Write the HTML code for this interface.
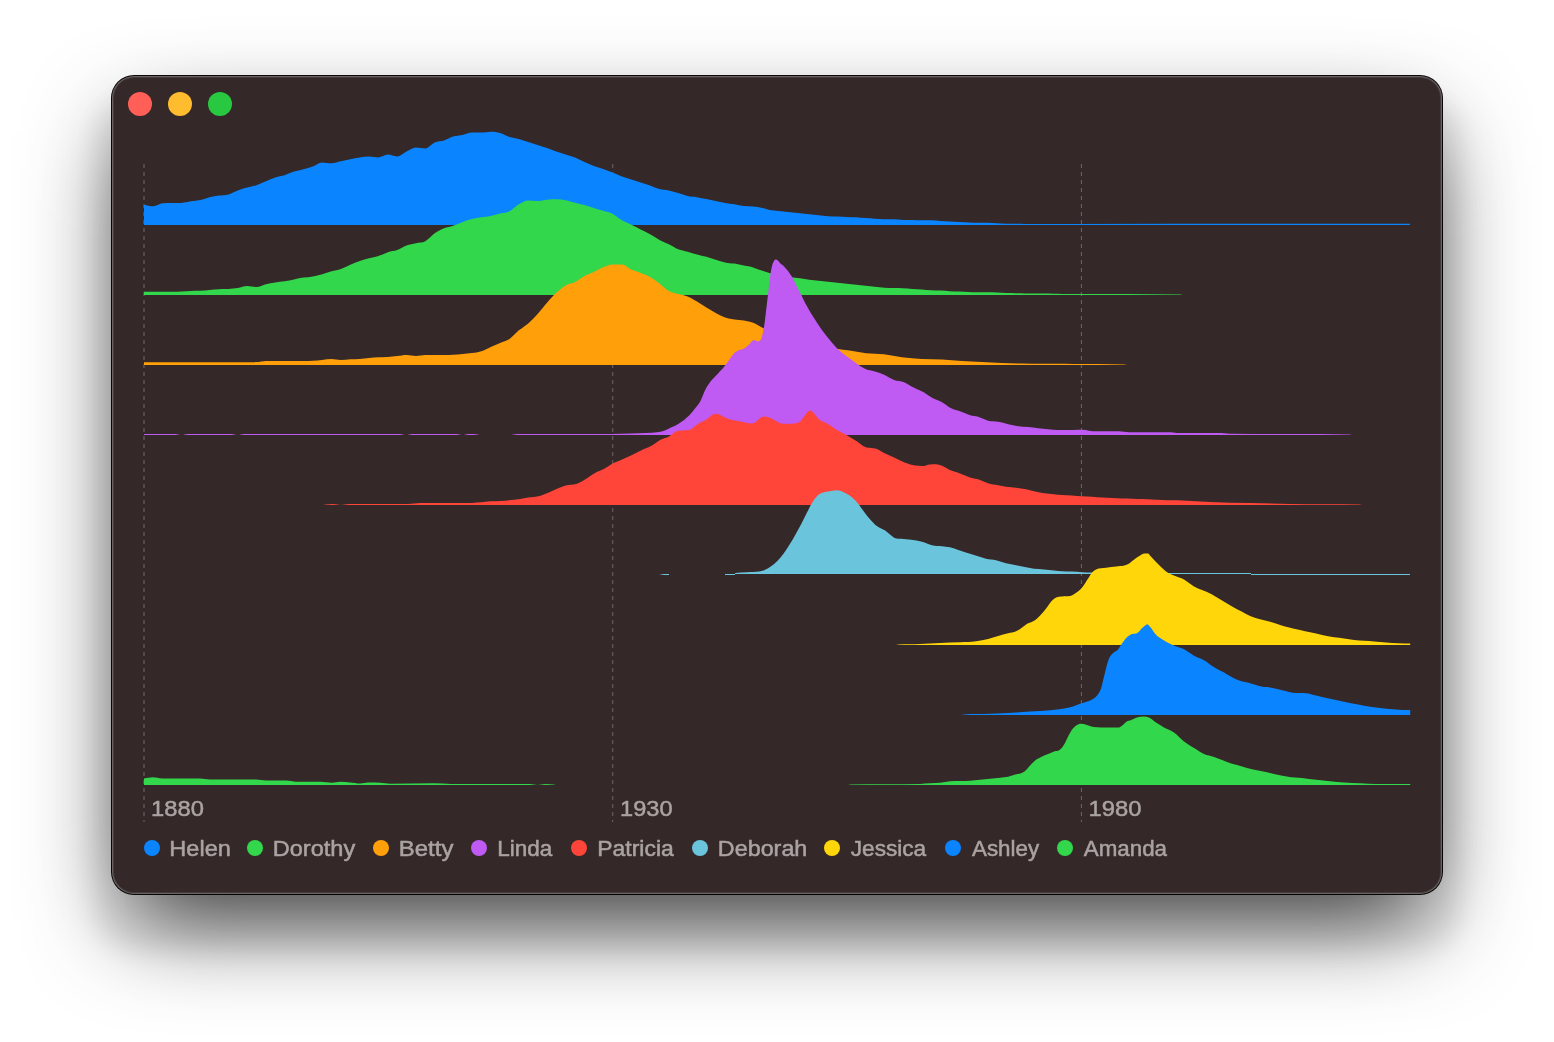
<!DOCTYPE html>
<html lang="en"><head><meta charset="utf-8"><title>Baby names ridgeline chart</title>
<style>
html,body{margin:0;padding:0;background:#fff;}
body{width:1554px;height:1042px;position:relative;overflow:hidden;font-family:"Liberation Sans",sans-serif;}
#win{position:absolute;left:112px;top:76px;width:1330px;height:818px;border-radius:22px;background:#342828;
 box-shadow:0 0 0 1px rgba(0,0,0,0.97),0 41px 96px -15px rgba(0,0,0,0.79),0 39px 24px 16px rgba(0,0,0,0.07);}
#win:after{content:"";position:absolute;left:0;top:0;right:0;bottom:0;border-radius:22px;box-shadow:inset 0 0 0 1px rgba(255,255,255,0.2),inset 0 0 0 2px rgba(255,255,255,0.09);}
.tl{position:absolute;top:16px;width:24px;height:24px;border-radius:50%;}
svg{position:absolute;left:0;top:0;}
text{font-family:"Liberation Sans",sans-serif;fill:#aaa3a2;stroke:#aaa3a2;stroke-width:0.5px;}
.ax{font-size:22.9px;}
.lg{font-size:21.5px;}
</style></head><body>
<div id="win">
<div class="tl" style="left:16px;background:#ff5f57"></div>
<div class="tl" style="left:56px;background:#febc2e"></div>
<div class="tl" style="left:96px;background:#28c840"></div>
</div>
<svg width="1554" height="1042" viewBox="0 0 1554 1042">
<g stroke="#6f6667" stroke-width="1" stroke-dasharray="4 4" fill="none">
<line x1="144" y1="164" x2="144" y2="822"/>
<line x1="612.7" y1="164" x2="612.7" y2="822"/>
<line x1="1081.4" y1="164" x2="1081.4" y2="822"/>
</g>
<path fill="#0A84FF" d="M144.0,225.0L144.0,204.7C147.1,205.3 150.3,206.3 153.4,206.3C156.5,206.3 159.6,203.5 162.8,203.3C165.9,203.1 169.0,203.2 172.1,203.1C175.3,203.1 178.4,203.1 181.5,202.9C184.6,202.7 187.8,201.8 190.9,201.3C194.0,200.9 197.1,200.8 200.3,200.1C203.4,199.4 206.5,197.9 209.6,197.2C212.8,196.4 215.9,196.0 219.0,195.6C222.1,195.1 225.3,195.2 228.4,194.4C231.5,193.5 234.6,191.5 237.8,190.4C240.9,189.2 244.0,188.4 247.1,187.6C250.3,186.7 253.4,186.2 256.5,185.2C259.6,184.1 262.8,182.5 265.9,181.2C269.0,179.9 272.1,178.4 275.3,177.4C278.4,176.4 281.5,176.2 284.6,175.2C287.8,174.2 290.9,172.6 294.0,171.6C297.1,170.6 300.3,170.1 303.4,169.2C306.5,168.3 309.6,167.5 312.8,166.4C315.9,165.3 319.0,162.4 322.1,162.4C325.3,162.4 328.4,163.2 331.5,163.2C334.6,163.2 337.8,161.9 340.9,161.2C344.0,160.6 347.1,159.9 350.3,159.2C353.4,158.6 356.5,157.9 359.7,157.4C362.8,157.0 365.9,156.6 369.0,156.6C372.2,156.6 375.3,157.4 378.4,157.4C381.5,157.4 384.7,154.6 387.8,154.6C390.9,154.6 394.0,156.4 397.2,156.4C400.3,156.4 403.4,152.9 406.5,151.4C409.7,149.9 412.8,147.4 415.9,147.4C419.0,147.4 422.2,148.4 425.3,148.4C428.4,148.4 431.5,143.8 434.7,142.5C437.8,141.1 440.9,141.5 444.0,140.5C447.1,139.5 450.1,137.4 453.2,136.5C456.3,135.5 459.5,135.5 462.6,134.9C465.7,134.2 468.8,132.5 472.0,132.5C475.1,132.5 478.2,132.5 481.3,132.5C484.5,132.5 487.6,131.7 490.7,131.7C493.8,131.7 497.0,132.0 500.1,132.9C503.2,133.7 506.3,135.9 509.5,136.9C512.6,137.9 515.7,138.0 518.8,138.9C522.0,139.7 525.1,141.1 528.2,142.1C531.3,143.1 534.5,143.9 537.6,144.9C540.7,145.9 543.8,146.9 547.0,148.0C550.1,149.1 553.2,150.4 556.3,151.4C559.5,152.5 562.6,153.4 565.7,154.4C568.8,155.5 572.0,156.4 575.1,157.6C578.2,158.9 581.3,160.6 584.5,162.0C587.6,163.4 590.7,164.8 593.8,166.0C597.0,167.2 600.1,167.9 603.2,169.0C606.3,170.1 609.5,171.2 612.6,172.4C615.7,173.6 618.8,175.2 622.0,176.4C625.1,177.6 628.2,178.4 631.3,179.4C634.5,180.4 637.6,181.4 640.7,182.4C643.8,183.4 647.0,184.3 650.1,185.4C653.2,186.5 656.3,188.1 659.5,189.0C662.6,189.8 665.7,189.7 668.9,190.4C672.0,191.0 675.1,192.0 678.2,193.0C681.4,193.9 684.5,195.3 687.6,196.0C690.7,196.7 693.9,196.6 697.0,197.2C700.1,197.7 703.2,198.5 706.4,199.1C709.5,199.8 712.6,200.5 715.7,201.1C718.9,201.8 722.0,202.4 725.1,202.9C728.2,203.5 731.4,203.8 734.5,204.3C737.6,204.8 740.7,205.6 743.9,205.9C747.0,206.3 750.1,206.2 753.2,206.5C756.3,206.9 759.3,207.3 762.4,207.9C765.5,208.6 768.7,209.8 771.8,210.3C774.9,210.9 778.0,211.0 781.2,211.3C784.3,211.7 787.4,212.0 790.5,212.3C793.7,212.7 796.8,213.0 799.9,213.3C803.0,213.7 806.2,214.0 809.3,214.3C812.4,214.7 815.5,215.0 818.7,215.3C821.8,215.7 824.9,216.1 828.0,216.3C831.2,216.5 834.3,216.4 837.4,216.5C840.5,216.6 843.7,216.8 846.8,216.9C849.9,217.0 853.0,217.1 856.2,217.3C859.3,217.5 862.4,217.9 865.5,218.1C868.7,218.3 871.8,218.5 874.9,218.7C878.0,218.9 881.2,219.3 884.3,219.3C887.4,219.3 890.5,219.3 893.7,219.3C896.8,219.3 899.9,219.8 903.0,219.9C906.2,220.0 909.3,220.0 912.4,220.1C915.5,220.2 918.7,220.3 921.8,220.3C924.9,220.3 928.0,220.3 931.2,220.3C934.3,220.3 937.4,220.9 940.5,221.1C943.7,221.3 946.8,221.4 949.9,221.5C953.0,221.6 956.2,221.7 959.3,221.9C962.4,222.1 965.5,222.4 968.7,222.5C971.8,222.6 974.9,222.7 978.0,222.7C981.2,222.7 984.3,222.7 987.4,222.7C990.6,222.7 993.7,223.1 996.8,223.3C999.9,223.5 1003.1,223.7 1006.2,223.7C1009.3,223.7 1012.4,223.7 1015.6,223.7C1018.7,223.7 1021.8,223.9 1024.9,223.9C1028.1,223.9 1031.2,223.9 1034.3,223.9C1037.4,223.9 1040.6,223.9 1043.7,223.9C1046.8,223.9 1049.9,223.9 1053.1,223.9C1056.2,223.9 1059.3,224.0 1062.4,224.0C1065.6,224.0 1068.7,224.0 1071.8,224.0C1154.5,224.0 1237.3,223.8 1320.0,223.8C1350.0,223.8 1380.0,223.8 1410.0,223.8L1410.0,225.0Z"/>
<path fill="#32D74B" d="M144.0,295.0L144.0,291.8C147.1,291.8 150.3,291.8 153.4,291.8C156.5,291.8 159.6,291.8 162.8,291.8C165.9,291.8 169.0,291.8 172.1,291.8C175.3,291.8 178.4,291.7 181.5,291.6C184.6,291.4 187.8,291.1 190.9,291.0C194.0,290.8 197.1,290.9 200.3,290.8C203.4,290.6 206.5,290.2 209.6,290.0C212.8,289.7 215.9,289.3 219.0,289.2C222.1,289.0 225.3,289.2 228.4,289.0C231.5,288.8 234.6,288.5 237.8,288.0C240.9,287.5 244.0,286.0 247.1,286.0C250.3,286.0 253.4,287.0 256.5,287.0C259.6,287.0 262.8,285.0 265.9,284.2C269.0,283.4 272.1,282.9 275.3,282.4C278.4,281.9 281.5,281.7 284.6,281.2C287.8,280.7 290.9,280.0 294.0,279.4C297.1,278.8 300.3,278.1 303.4,277.6C306.5,277.1 309.6,277.0 312.8,276.4C315.9,275.8 319.0,275.1 322.1,274.2C325.3,273.3 328.4,272.1 331.5,271.2C334.6,270.3 337.8,270.1 340.9,269.0C344.0,267.9 347.1,266.2 350.3,264.8C353.4,263.5 356.5,262.1 359.7,261.0C362.8,259.9 365.9,259.1 369.0,258.2C372.2,257.4 375.3,257.0 378.4,256.0C381.5,255.0 384.7,253.2 387.8,252.2C390.9,251.2 394.0,251.2 397.2,250.1C400.3,248.9 403.4,246.6 406.5,245.5C409.7,244.3 412.8,244.0 415.9,243.3C419.0,242.6 422.2,242.9 425.3,241.3C428.4,239.6 431.5,235.4 434.7,233.3C437.8,231.1 440.9,229.6 444.0,228.3C447.1,227.1 450.1,226.7 453.2,225.7C456.3,224.6 459.5,223.0 462.6,221.9C465.7,220.8 468.8,219.9 472.0,219.1C475.1,218.3 478.2,217.8 481.3,217.3C484.5,216.8 487.6,216.7 490.7,216.1C493.8,215.5 497.0,214.3 500.1,213.5C503.2,212.7 506.3,212.9 509.5,211.3C512.6,209.8 515.7,206.1 518.8,204.3C522.0,202.5 525.1,200.5 528.2,200.5C531.3,200.5 534.5,201.1 537.6,201.1C540.7,201.1 543.8,200.0 547.0,199.7C550.1,199.4 553.2,199.3 556.3,199.3C559.5,199.3 562.6,199.8 565.7,200.3C568.8,200.9 572.0,201.9 575.1,202.7C578.2,203.5 581.3,204.3 584.5,205.1C587.6,206.0 590.7,207.0 593.8,207.9C597.0,208.9 600.1,209.8 603.2,210.7C606.3,211.7 609.5,212.1 612.6,213.7C615.7,215.3 618.8,218.5 622.0,220.3C625.1,222.1 628.2,223.2 631.3,224.7C634.5,226.2 637.6,227.9 640.7,229.5C643.8,231.1 647.0,232.6 650.1,234.3C653.2,236.0 656.3,238.2 659.5,239.9C662.6,241.5 665.7,242.7 668.9,244.3C672.0,245.8 675.1,248.0 678.2,249.3C681.4,250.5 684.5,250.9 687.6,251.8C690.7,252.7 693.9,253.8 697.0,254.6C700.1,255.5 703.2,256.0 706.4,256.8C709.5,257.7 712.6,258.9 715.7,259.8C718.9,260.8 722.0,261.8 725.1,262.4C728.2,263.1 731.4,263.1 734.5,263.6C737.6,264.2 740.7,265.0 743.9,265.6C747.0,266.3 750.1,266.5 753.2,267.4C756.3,268.3 759.3,269.8 762.4,270.8C765.5,271.9 768.7,273.0 771.8,273.8C774.9,274.6 778.0,274.8 781.2,275.4C784.3,276.0 787.4,276.7 790.5,277.2C793.7,277.7 796.8,277.8 799.9,278.2C803.0,278.6 806.2,279.4 809.3,279.8C812.4,280.2 815.5,280.5 818.7,280.8C821.8,281.1 824.9,281.5 828.0,281.8C831.2,282.1 834.3,282.5 837.4,282.8C840.5,283.1 843.7,283.5 846.8,283.8C849.9,284.1 853.0,284.5 856.2,284.8C859.3,285.1 862.4,285.4 865.5,285.8C868.7,286.1 871.8,286.4 874.9,286.8C878.0,287.1 881.2,287.6 884.3,287.8C887.4,288.0 890.5,287.9 893.7,288.0C896.8,288.0 899.9,288.0 903.0,288.2C906.2,288.3 909.3,288.8 912.4,289.0C915.5,289.2 918.7,289.2 921.8,289.4C924.9,289.6 928.0,290.0 931.2,290.2C934.3,290.4 937.4,290.4 940.5,290.6C943.7,290.7 946.8,291.0 949.9,291.2C953.0,291.3 956.2,291.4 959.3,291.6C962.4,291.7 965.5,291.9 968.7,292.0C971.8,292.1 974.9,292.2 978.0,292.2C981.2,292.2 984.3,292.2 987.4,292.2C990.6,292.2 993.7,292.2 996.8,292.4C999.9,292.5 1003.1,292.8 1006.2,293.0C1009.3,293.1 1012.4,293.1 1015.6,293.2C1018.7,293.2 1021.8,293.4 1024.9,293.4C1028.1,293.4 1031.2,293.4 1034.3,293.4C1037.4,293.4 1040.6,293.5 1043.7,293.6C1046.8,293.6 1049.9,293.7 1053.1,293.8C1056.2,293.8 1059.3,293.9 1062.4,293.9C1065.6,293.9 1068.7,293.9 1071.8,293.9C1107.9,293.9 1143.9,293.9 1180.0,294.5C1181.0,294.5 1182.0,294.8 1183.0,295.0L1183.0,295.0Z"/>
<path fill="#FF9F0A" d="M144.0,365.0L144.0,362.3C147.1,362.3 150.3,362.3 153.4,362.3C156.5,362.3 159.6,362.3 162.8,362.3C165.9,362.3 169.0,362.3 172.1,362.3C175.3,362.3 178.4,362.3 181.5,362.3C184.6,362.3 187.8,362.3 190.9,362.3C194.0,362.3 197.1,362.3 200.3,362.3C203.4,362.3 206.5,362.3 209.6,362.3C212.8,362.3 215.9,362.3 219.0,362.3C222.1,362.3 225.3,362.3 228.4,362.3C231.5,362.3 234.6,362.3 237.8,362.3C240.9,362.3 244.0,362.3 247.1,362.3C250.3,362.3 253.4,362.3 256.5,362.1C259.6,361.9 262.8,360.9 265.9,360.9C269.0,360.9 272.1,360.9 275.3,360.9C278.4,360.9 281.5,360.9 284.6,360.9C287.8,360.9 290.9,360.9 294.0,360.9C297.1,360.9 300.3,360.9 303.4,360.9C306.5,360.9 309.6,360.9 312.8,360.7C315.9,360.5 319.0,360.2 322.1,359.9C325.3,359.6 328.4,359.1 331.5,359.1C334.6,359.1 337.8,360.1 340.9,360.1C344.0,360.1 347.1,359.5 350.3,359.3C353.4,359.1 356.5,359.1 359.7,358.9C362.8,358.7 365.9,358.4 369.0,358.1C372.2,357.8 375.3,357.5 378.4,357.3C381.5,357.1 384.7,357.3 387.8,357.1C390.9,356.9 394.0,356.4 397.2,356.1C400.3,355.8 403.4,355.1 406.5,355.1C409.7,355.1 412.8,355.9 415.9,355.9C419.0,355.9 422.2,354.9 425.3,354.9C428.4,354.9 431.5,354.9 434.7,354.9C437.8,354.9 440.9,354.9 444.0,354.9C447.1,354.9 450.1,354.9 453.2,354.7C456.3,354.5 459.5,354.2 462.6,353.9C465.7,353.6 468.8,353.5 472.0,353.1C475.1,352.7 478.2,352.3 481.3,351.3C484.5,350.3 487.6,348.3 490.7,346.9C493.8,345.5 497.0,344.3 500.1,342.9C503.2,341.6 506.3,341.0 509.5,338.9C512.6,336.8 515.7,332.9 518.8,330.3C522.0,327.8 525.1,326.1 528.2,323.4C531.3,320.6 534.5,317.4 537.6,314.0C540.7,310.6 543.8,306.3 547.0,302.8C550.1,299.3 553.2,295.7 556.3,292.8C559.5,289.9 562.6,287.2 565.7,285.4C568.8,283.6 572.0,283.6 575.1,282.0C578.2,280.4 581.3,277.5 584.5,275.9C587.6,274.2 590.7,273.3 593.8,271.9C597.0,270.4 600.1,268.5 603.2,267.3C606.3,266.0 609.5,264.5 612.6,264.5C615.7,264.5 618.8,264.5 622.0,264.5C625.1,264.5 628.2,268.1 631.3,269.5C634.5,270.9 637.6,271.6 640.7,272.9C643.8,274.1 647.0,275.3 650.1,277.0C653.2,278.8 656.3,281.1 659.5,283.4C662.6,285.8 665.7,289.3 668.9,291.0C672.0,292.8 675.1,293.1 678.2,294.0C681.4,294.9 684.5,295.2 687.6,296.4C690.7,297.6 693.9,299.6 697.0,301.4C700.1,303.2 703.2,305.5 706.4,307.4C709.5,309.3 712.6,311.3 715.7,313.0C718.9,314.6 722.0,316.3 725.1,317.4C728.2,318.4 731.4,318.9 734.5,319.4C737.6,319.9 740.7,319.8 743.9,320.4C747.0,320.9 750.1,321.5 753.2,322.8C756.2,323.9 759.1,325.9 762.0,327.4C764.7,328.8 767.3,330.3 770.0,331.5C773.3,333.0 776.7,334.3 780.0,335.5C783.3,336.7 786.7,337.5 790.0,338.5C793.3,339.5 796.7,340.6 800.0,341.5C803.3,342.4 806.7,343.2 810.0,344.0C813.3,344.8 816.7,345.4 820.0,346.0C823.3,346.6 826.7,347.3 830.0,347.8C832.7,348.2 835.3,348.5 838.0,348.9C841.3,349.4 844.7,349.8 848.0,350.3C854.0,351.2 860.0,352.6 866.0,353.3C872.0,354.0 878.0,353.6 884.0,354.3C890.0,355.0 896.0,356.5 902.0,357.3C908.7,358.1 915.3,358.5 922.0,358.9C928.7,359.3 935.3,359.2 942.0,359.5C948.7,359.8 955.3,360.5 962.0,360.9C968.7,361.3 975.3,361.6 982.0,361.9C988.7,362.2 995.3,362.6 1002.0,362.9C1008.7,363.2 1015.3,363.4 1022.0,363.5C1028.7,363.6 1035.3,363.7 1042.0,363.8C1052.3,363.9 1062.7,363.8 1073.0,363.9C1090.0,364.0 1107.0,363.9 1124.0,364.5C1125.0,364.5 1126.0,364.8 1127.0,365.0L1127.0,365.0Z"/>
<path fill="#BF5AF2" d="M144.0,435.0L144.0,433.9C154.3,433.9 164.7,433.9 175.0,433.9C177.2,433.9 179.3,435.0 181.5,435.0C183.7,435.0 185.8,433.9 188.0,433.9C202.4,433.9 216.7,433.9 231.1,433.9C233.3,433.9 235.4,435.0 237.6,435.0C239.8,435.0 241.9,433.9 244.1,433.9C295.9,433.9 347.7,433.9 399.5,433.9C401.7,433.9 403.8,435.0 406.0,435.0C408.2,435.0 410.3,433.9 412.5,433.9C427.1,433.9 441.6,433.9 456.2,433.9C458.4,433.9 460.5,435.0 462.7,435.0C464.6,435.0 466.6,433.9 468.5,433.9C470.2,433.9 471.8,433.9 473.5,433.9C476.2,433.9 478.8,435.0 481.5,435.0C490.9,435.0 500.2,435.0 509.6,435.0C512.3,435.0 514.9,433.9 517.6,433.9C548.7,433.9 579.9,433.9 611.0,433.9C617.7,433.9 624.3,433.7 631.0,433.4C640.4,433.1 649.7,433.4 659.0,432.0C662.4,431.5 665.7,429.9 669.0,428.4C672.4,427.0 675.7,425.6 679.0,423.5C682.4,421.3 685.7,418.9 689.1,415.5C691.0,413.4 693.0,411.1 695.0,408.5C696.9,406.0 698.8,404.2 700.7,400.5C702.1,397.7 703.6,393.2 705.0,390.3C706.6,387.1 708.2,384.8 709.8,382.5C712.4,378.8 715.0,376.8 717.6,373.9C720.2,371.0 722.7,368.6 725.3,365.2C726.9,363.1 728.5,360.5 730.1,358.4C731.7,356.3 733.3,354.0 734.9,352.6C736.2,351.5 737.5,350.8 738.8,350.2C740.4,349.4 742.0,349.7 743.6,348.8C745.2,347.9 746.9,346.2 748.5,344.9C750.4,343.3 752.3,340.1 754.2,340.1C755.2,340.1 756.1,341.2 757.1,341.2C757.9,341.2 758.8,341.2 759.6,341.0C760.2,340.8 760.9,340.0 761.5,338.1C762.0,336.7 762.4,334.6 762.9,332.4C763.4,330.1 763.9,328.0 764.4,324.6C764.9,321.4 765.3,316.9 765.8,313.0C766.3,308.8 766.8,304.7 767.3,300.5C767.5,298.8 767.7,297.2 767.9,295.5C768.4,291.5 768.8,286.7 769.3,282.9C769.8,278.5 770.4,274.4 770.9,271.3C771.4,268.4 771.9,266.1 772.4,264.4C772.9,262.6 773.5,261.7 774.0,260.9C774.6,259.9 775.3,259.6 775.9,259.6C776.5,259.6 777.2,260.0 777.8,260.5C778.6,261.1 779.4,262.4 780.2,263.2C781.2,264.2 782.2,264.7 783.2,265.6C784.2,266.6 785.3,267.8 786.3,269.0C787.3,270.2 788.4,271.5 789.4,272.9C790.4,274.3 791.5,275.7 792.5,277.5C793.5,279.3 794.6,281.6 795.6,283.7C796.6,285.8 797.7,287.8 798.7,289.9C799.7,292.0 800.8,294.0 801.8,296.1C803.1,298.6 804.3,301.4 805.6,303.8C806.9,306.3 808.2,308.5 809.5,310.7C810.8,312.9 812.1,314.8 813.4,316.9C814.7,318.9 815.9,321.1 817.2,323.1C818.8,325.5 820.3,327.8 821.9,330.0C824.6,333.8 827.3,337.1 830.0,340.3C832.7,343.5 835.4,346.7 838.0,349.3C841.4,352.6 844.7,354.8 848.1,357.3C852.1,360.3 856.1,363.4 860.1,365.9C862.1,367.1 864.1,368.4 866.1,369.3C868.7,370.4 871.4,370.5 874.1,371.3C877.4,372.2 880.7,373.2 884.1,374.7C887.4,376.1 890.7,378.6 894.1,379.9C897.4,381.1 900.8,380.9 904.1,382.2C907.4,383.6 910.8,386.1 914.1,387.8C917.4,389.6 920.8,390.7 924.1,392.6C926.8,394.2 929.4,396.3 932.1,397.8C935.4,399.7 938.8,400.3 942.1,402.2C945.1,403.9 948.1,406.7 951.1,408.2C954.1,409.7 957.1,410.1 960.1,411.2C963.5,412.4 966.8,414.2 970.1,415.2C972.8,416.0 975.5,416.0 978.1,416.8C981.5,417.7 984.8,419.9 988.1,420.8C991.5,421.6 994.8,421.2 998.2,421.8C1001.5,422.3 1004.8,423.4 1008.2,424.2C1011.5,424.9 1014.8,425.7 1018.2,426.2C1021.5,426.6 1024.8,426.6 1028.2,427.0C1031.5,427.3 1034.8,427.8 1038.2,428.2C1041.5,428.5 1044.8,428.9 1048.2,429.2C1051.5,429.5 1054.9,430.0 1058.2,430.0C1063.1,430.0 1068.1,430.0 1073.0,430.0C1076.3,430.0 1079.7,429.8 1083.0,429.8C1086.3,429.8 1089.7,431.2 1093.0,431.2C1101.7,431.2 1110.4,431.2 1119.0,431.2C1122.4,431.2 1125.7,432.2 1129.0,432.2C1142.4,432.2 1155.7,432.2 1169.1,432.2C1171.7,432.2 1174.4,432.9 1177.1,432.9C1191.7,432.9 1206.4,432.9 1221.1,432.9C1225.1,432.9 1229.1,433.7 1233.1,433.7C1271.8,434.5 1310.5,433.7 1349.2,434.5C1350.2,434.5 1351.2,434.8 1352.2,435.0L1352.2,435.0Z"/>
<path fill="#FF453A" d="M323.0,505.0L323.0,505.0C324.0,504.8 325.0,504.6 326.0,504.5C328.3,504.2 330.7,504.0 333.0,504.0C335.6,504.0 338.3,505.0 340.9,505.0C343.6,505.0 346.3,504.0 349.0,504.0C368.7,503.9 388.4,504.0 408.1,503.9C412.1,503.9 416.1,503.1 420.1,503.1C437.4,502.9 454.8,503.1 472.1,502.9C478.1,502.8 484.1,501.7 490.1,501.3C493.5,501.1 496.8,501.1 500.1,500.9C506.8,500.5 513.5,499.9 520.1,498.9C522.8,498.5 525.5,497.9 528.1,497.5C531.5,497.0 534.8,497.1 538.2,496.3C541.5,495.5 544.8,494.1 548.2,492.7C551.5,491.4 554.8,489.7 558.2,488.3C560.8,487.3 563.5,486.1 566.2,485.3C569.5,484.4 572.8,485.1 576.2,483.9C578.8,483.0 581.5,481.5 584.2,479.9C587.5,478.0 590.9,475.2 594.2,473.4C597.5,471.5 600.9,470.7 604.2,468.8C606.5,467.5 608.7,465.7 611.0,464.4C614.3,462.5 617.7,461.5 621.0,460.0C624.3,458.5 627.7,457.0 631.0,455.4C634.3,453.8 637.7,452.0 641.0,450.4C644.4,448.8 647.7,447.8 651.0,446.0C654.4,444.2 657.7,441.1 661.0,439.4C663.7,438.1 666.4,437.8 669.0,436.4C671.7,435.0 674.4,431.8 677.0,431.0C679.0,430.4 681.0,430.6 683.0,430.4C685.0,430.3 687.0,430.4 689.1,430.0C691.7,429.5 694.4,426.1 697.1,424.5C700.4,422.4 703.7,421.3 707.1,419.1C709.1,417.7 711.1,415.3 713.1,414.5C714.4,413.9 715.7,413.7 717.1,413.7C718.4,413.7 719.7,414.8 721.1,415.5C723.1,416.4 725.1,417.7 727.1,418.5C729.7,419.5 732.4,419.9 735.1,420.5C737.7,421.1 740.4,421.6 743.1,422.1C745.8,422.6 748.4,423.5 751.1,423.5C752.4,423.5 753.8,423.2 755.1,422.5C756.8,421.6 758.4,419.1 760.1,418.1C761.4,417.3 762.8,416.5 764.1,416.5C765.8,416.5 767.4,416.9 769.1,417.5C771.1,418.1 773.1,419.5 775.1,420.5C777.1,421.5 779.1,423.1 781.1,423.5C783.1,423.9 785.1,423.9 787.1,423.9C789.8,423.9 792.5,423.9 795.1,423.5C796.8,423.2 798.5,422.9 800.1,421.5C801.5,420.3 802.8,418.1 804.1,416.5C805.5,414.8 806.8,412.5 808.1,411.5C808.8,411.0 809.5,410.5 810.1,410.5C811.1,410.5 812.1,411.6 813.1,412.5C815.1,414.1 817.1,417.7 819.1,419.5C821.8,421.8 824.5,421.9 827.1,423.5C830.5,425.4 833.8,428.0 837.1,430.0C840.5,432.0 843.8,433.5 847.2,435.4C850.5,437.3 853.8,439.2 857.2,441.4C859.8,443.2 862.5,446.0 865.2,447.0C867.2,447.8 869.2,447.8 871.2,448.0C872.5,448.2 873.8,448.1 875.2,448.4C878.5,449.1 881.8,451.8 885.2,453.4C888.5,455.0 891.8,456.4 895.2,458.0C898.5,459.6 901.9,461.5 905.2,462.8C908.5,464.0 911.9,465.1 915.2,465.6C917.5,465.9 919.7,466.0 922.0,466.0C924.7,466.0 927.3,464.6 930.0,464.4C932.0,464.2 934.0,464.2 936.0,464.2C938.0,464.2 940.0,465.0 942.0,465.8C944.7,466.8 947.3,468.8 950.0,470.0C953.4,471.4 956.7,472.1 960.0,473.4C963.4,474.6 966.7,476.3 970.0,477.4C972.7,478.2 975.4,478.5 978.0,479.3C981.4,480.4 984.7,482.3 988.0,483.3C991.4,484.3 994.7,484.7 998.0,485.3C1000.7,485.8 1003.4,486.4 1006.1,486.7C1009.4,487.2 1012.7,487.3 1016.1,487.7C1019.4,488.2 1022.7,488.7 1026.1,489.3C1029.4,490.0 1032.7,491.0 1036.1,491.7C1038.7,492.3 1041.4,492.9 1044.1,493.3C1047.4,493.8 1050.7,494.0 1054.1,494.3C1056.8,494.6 1059.4,494.9 1062.1,495.1C1065.4,495.4 1068.8,495.3 1072.1,495.5C1075.4,495.7 1078.8,496.1 1082.1,496.3C1085.4,496.5 1088.8,496.5 1092.1,496.7C1095.4,496.9 1098.8,497.3 1102.1,497.5C1105.5,497.7 1108.8,497.7 1112.1,497.9C1115.5,498.1 1118.8,498.4 1122.1,498.5C1125.5,498.6 1128.8,498.6 1132.1,498.7C1135.5,498.8 1138.8,499.0 1142.1,499.1C1145.5,499.2 1148.8,499.4 1152.1,499.5C1155.5,499.6 1158.8,499.8 1162.2,499.9C1165.5,500.0 1168.8,500.2 1172.2,500.3C1175.5,500.4 1178.8,500.4 1182.2,500.5C1191.5,500.8 1200.7,501.5 1210.0,501.9C1223.4,502.5 1236.7,502.8 1250.0,503.1C1263.4,503.4 1276.7,503.7 1290.1,503.9C1313.1,504.3 1336.1,503.9 1359.1,504.5C1360.1,504.5 1361.1,504.8 1362.1,505.0L1362.1,505.0Z"/>
<path fill="#6AC4DC" d="M735.1,574.0L735.1,573.0C739.1,572.7 743.1,572.4 747.1,572.2C751.1,571.9 755.1,572.2 759.1,571.6C761.1,571.3 763.1,570.7 765.1,569.8C767.1,568.9 769.1,567.6 771.1,566.2C773.1,564.8 775.1,563.2 777.1,561.2C779.1,559.2 781.1,556.9 783.1,554.2C785.1,551.5 787.1,548.4 789.1,545.2C791.1,542.1 793.1,538.7 795.1,535.2C797.1,531.7 799.1,528.1 801.1,524.3C803.1,520.4 805.1,516.1 807.1,512.3C809.1,508.5 811.1,504.3 813.1,501.3C815.1,498.3 817.1,495.9 819.1,494.3C821.1,492.8 823.1,492.5 825.1,491.9C827.1,491.4 829.1,491.2 831.1,490.9C833.1,490.7 835.1,490.3 837.1,490.3C839.1,490.3 841.1,491.1 843.1,491.9C845.2,492.8 847.2,493.9 849.2,495.3C851.2,496.7 853.2,498.2 855.2,500.3C857.2,502.4 859.2,505.3 861.2,507.9C863.2,510.5 865.2,513.4 867.2,515.9C869.2,518.3 871.2,520.7 873.2,522.7C874.5,524.0 875.8,525.2 877.2,526.3C879.8,528.3 882.5,528.8 885.2,530.6C887.2,532.1 889.2,534.2 891.2,535.6C892.5,536.6 893.8,537.8 895.2,538.2C897.2,538.8 899.2,538.6 901.2,538.8C904.5,539.2 907.9,539.4 911.2,539.8C914.8,540.3 918.4,540.9 922.0,541.8C925.3,542.7 928.7,544.5 932.0,545.2C935.3,546.0 938.7,545.8 942.0,546.2C944.7,546.5 947.3,546.6 950.0,547.2C953.4,548.0 956.7,549.5 960.0,550.6C963.4,551.7 966.7,552.8 970.0,553.8C972.7,554.6 975.4,555.4 978.0,556.2C980.7,557.0 983.4,558.1 986.0,558.8C989.4,559.6 992.7,559.5 996.0,560.2C999.4,560.9 1002.7,562.4 1006.1,563.2C1009.4,564.0 1012.7,564.5 1016.1,565.2C1019.4,565.8 1022.7,566.5 1026.1,567.2C1028.7,567.7 1031.4,568.4 1034.1,568.8C1037.4,569.2 1040.7,569.1 1044.1,569.4C1047.4,569.6 1050.7,570.0 1054.1,570.4C1056.8,570.6 1059.4,571.0 1062.1,571.2C1065.4,571.4 1068.8,571.4 1072.1,571.6C1075.4,571.7 1078.8,572.0 1082.1,572.2C1085.4,572.3 1088.8,572.5 1092.1,572.6C1102.1,572.9 1112.1,573.0 1122.1,573.0C1138.1,573.0 1154.1,573.0 1170.2,573.0L1170.2,574.0Z"/>
<path fill="#FFD60A" d="M896.0,645.0L896.0,645.0C897.0,644.8 898.0,644.6 899.0,644.5C906.0,643.9 913.0,644.2 920.0,643.9C926.7,643.6 933.4,643.2 940.0,642.9C946.7,642.6 953.4,642.6 960.1,642.3C965.4,642.0 970.7,642.1 976.1,641.3C980.1,640.7 984.1,639.9 988.1,638.9C991.4,638.1 994.7,636.8 998.1,635.9C1001.4,635.0 1004.7,634.2 1008.1,633.3C1010.8,632.6 1013.4,632.6 1016.1,631.3C1018.8,630.1 1021.4,627.7 1024.1,625.9C1025.4,625.1 1026.8,624.1 1028.1,623.3C1030.1,622.2 1032.1,622.1 1034.1,620.7C1036.1,619.4 1038.1,617.4 1040.1,615.4C1042.1,613.3 1044.1,610.9 1046.1,608.4C1048.1,605.9 1050.1,602.3 1052.1,600.4C1053.4,599.1 1054.8,598.1 1056.1,597.4C1058.1,596.4 1060.1,596.6 1062.1,596.4C1064.8,596.1 1067.5,596.4 1070.1,596.0C1072.1,595.7 1074.1,594.2 1076.1,592.8C1078.1,591.4 1080.1,589.8 1082.1,587.4C1084.1,585.0 1086.1,581.4 1088.1,578.4C1089.5,576.4 1090.8,573.9 1092.1,572.4C1093.5,570.9 1094.8,570.1 1096.1,569.4C1099.5,567.8 1102.8,568.3 1106.1,567.8C1109.5,567.3 1112.8,566.9 1116.2,566.5C1118.8,566.1 1121.5,566.2 1124.2,565.5C1125.8,565.0 1127.5,564.5 1129.2,563.5C1130.8,562.5 1132.5,560.7 1134.2,559.5C1136.2,558.0 1138.2,556.6 1140.2,555.5C1141.5,554.7 1142.8,553.5 1144.2,553.5C1145.5,553.5 1146.8,553.5 1148.2,553.5C1148.8,553.5 1149.4,554.8 1150.0,555.5C1152.0,557.6 1154.0,560.0 1156.0,562.1C1159.4,565.5 1162.7,569.1 1166.0,571.4C1168.7,573.3 1171.4,574.2 1174.0,575.4C1177.4,576.9 1180.7,577.6 1184.0,579.4C1187.4,581.3 1190.7,584.5 1194.0,586.4C1196.7,587.9 1199.4,588.8 1202.0,590.0C1205.4,591.5 1208.7,592.7 1212.1,594.4C1215.4,596.1 1218.7,598.4 1222.1,600.4C1225.4,602.4 1228.7,604.5 1232.1,606.4C1235.4,608.3 1238.7,610.0 1242.1,611.8C1244.7,613.2 1247.4,614.8 1250.1,616.0C1252.7,617.1 1255.4,617.9 1258.1,618.7C1262.1,620.0 1266.1,620.6 1270.1,621.7C1273.4,622.7 1276.8,623.9 1280.1,624.9C1282.8,625.8 1285.4,626.6 1288.1,627.3C1292.1,628.4 1296.1,629.0 1300.1,629.9C1303.4,630.7 1306.8,631.6 1310.1,632.3C1314.1,633.2 1318.1,634.1 1322.1,634.9C1326.1,635.8 1330.1,636.7 1334.1,637.3C1337.5,637.8 1340.8,638.0 1344.1,638.5C1347.5,639.0 1350.8,639.7 1354.1,640.1C1357.5,640.5 1360.8,640.5 1364.2,640.7C1367.5,640.9 1370.8,641.2 1374.2,641.5C1378.2,641.8 1382.2,642.2 1386.2,642.5C1390.2,642.8 1394.2,643.1 1398.2,643.3C1402.2,643.5 1406.2,643.4 1410.2,643.5L1410.2,645.0Z"/>
<path fill="#0A84FF" d="M961.1,715.0L961.1,715.0C962.1,714.8 963.1,714.6 964.1,714.5C972.7,713.8 981.4,714.1 990.1,713.8C998.7,713.4 1007.4,713.1 1016.1,712.6C1020.8,712.3 1025.4,711.9 1030.1,711.6C1036.8,711.1 1043.4,710.8 1050.1,710.2C1054.8,709.7 1059.4,709.4 1064.1,708.6C1066.8,708.1 1069.5,707.6 1072.1,706.8C1074.8,706.0 1077.5,704.7 1080.1,703.8C1082.8,702.9 1085.5,702.3 1088.1,701.2C1090.1,700.3 1092.1,699.8 1094.1,698.2C1095.5,697.1 1096.8,696.3 1098.1,694.2C1099.1,692.6 1100.1,691.4 1101.1,688.2C1101.8,686.1 1102.5,682.9 1103.1,680.2C1103.8,677.6 1104.5,674.9 1105.1,672.2C1105.8,669.6 1106.5,666.6 1107.1,664.3C1107.8,661.9 1108.5,659.9 1109.1,658.3C1110.1,655.9 1111.1,655.1 1112.1,653.9C1114.2,651.4 1116.2,651.7 1118.2,649.3C1119.5,647.7 1120.8,645.2 1122.2,643.3C1123.5,641.4 1124.8,639.3 1126.2,637.9C1127.5,636.5 1128.8,635.7 1130.2,634.9C1132.8,633.3 1135.5,634.6 1138.2,632.3C1139.5,631.2 1140.8,629.2 1142.2,627.9C1143.5,626.7 1144.8,625.4 1146.2,624.7C1146.5,624.6 1146.7,624.3 1147.0,624.3C1148.0,624.3 1149.0,625.8 1150.0,626.7C1152.0,628.7 1154.0,632.6 1156.0,634.7C1158.0,636.8 1160.0,637.9 1162.0,639.3C1165.4,641.6 1168.7,643.1 1172.0,644.7C1176.0,646.6 1180.0,647.2 1184.0,649.3C1187.4,651.0 1190.7,653.8 1194.0,655.7C1197.4,657.5 1200.7,658.3 1204.0,660.3C1207.4,662.2 1210.7,665.2 1214.1,667.3C1217.4,669.3 1220.7,670.8 1224.1,672.6C1226.7,674.1 1229.4,675.9 1232.1,677.2C1234.7,678.6 1237.4,679.9 1240.1,680.8C1243.4,682.0 1246.7,682.3 1250.1,683.2C1253.4,684.1 1256.7,685.5 1260.1,686.2C1263.4,686.9 1266.8,686.8 1270.1,687.4C1274.1,688.1 1278.1,689.3 1282.1,690.2C1286.8,691.2 1291.4,692.7 1296.1,693.0C1299.4,693.2 1302.8,693.0 1306.1,693.2C1309.4,693.4 1312.8,694.8 1316.1,695.6C1320.8,696.7 1325.5,697.8 1330.1,698.8C1334.8,699.8 1339.5,700.8 1344.1,701.8C1348.8,702.8 1353.5,703.7 1358.1,704.6C1362.1,705.3 1366.2,706.2 1370.2,706.8C1374.2,707.4 1378.2,707.7 1382.2,708.2C1386.8,708.7 1391.5,709.2 1396.2,709.6C1398.2,709.7 1400.2,710.0 1402.2,710.0C1404.8,710.0 1407.5,710.0 1410.2,710.0L1410.2,715.0Z"/>
<path fill="#32D74B" d="M144.0,785.0L144.0,778.5C147.0,778.1 150.0,777.3 153.0,777.3C156.0,777.3 159.0,778.5 162.0,778.5C174.7,778.5 187.4,778.5 200.0,778.5C203.4,778.5 206.7,779.5 210.0,779.5C225.4,779.5 240.7,779.5 256.1,779.5C259.4,779.5 262.7,780.5 266.1,780.5C272.8,780.5 279.4,780.5 286.1,780.5C289.4,780.5 292.8,781.7 296.1,781.7C304.1,781.7 312.1,781.7 320.1,781.7C324.1,781.7 328.1,782.7 332.1,782.7C334.8,782.7 337.5,781.7 340.1,781.7C343.5,781.7 346.8,782.2 350.1,782.5C353.5,782.8 356.8,783.5 360.1,783.5C362.8,783.5 365.5,782.5 368.1,782.5C372.1,782.5 376.2,782.5 380.2,782.7C383.5,782.9 386.8,783.7 390.2,783.7C404.8,783.7 419.5,783.3 434.2,783.3C439.8,783.3 445.4,784.0 451.0,784.0C457.3,784.0 463.7,784.0 470.0,784.0C489.8,784.0 509.7,784.0 529.5,784.0C532.2,784.0 535.0,785.0 537.7,785.0C540.3,785.0 542.9,784.0 545.5,784.0C548.0,784.0 550.5,784.2 553.0,784.5C554.0,784.6 555.0,784.8 556.0,785.0L556.0,785.0Z"/>
<path fill="#32D74B" d="M848.0,785.0L848.0,785.0C849.0,784.8 850.0,784.5 851.0,784.5C874.0,783.9 897.0,784.5 920.1,783.9C923.4,783.8 926.7,783.5 930.1,783.3C933.4,783.1 936.7,783.1 940.1,782.7C943.4,782.4 946.7,781.6 950.1,781.3C956.7,780.7 963.4,781.2 970.1,780.7C973.4,780.5 976.8,780.1 980.1,779.7C983.4,779.4 986.8,779.1 990.1,778.7C993.4,778.4 996.8,778.1 1000.1,777.7C1002.8,777.4 1005.4,777.3 1008.1,776.7C1010.8,776.2 1013.4,775.1 1016.1,774.3C1018.1,773.8 1020.1,773.8 1022.1,772.7C1023.5,772.0 1024.8,771.2 1026.1,769.9C1027.5,768.7 1028.8,766.8 1030.1,765.4C1031.8,763.6 1033.5,761.7 1035.1,760.4C1036.8,759.0 1038.5,758.3 1040.1,757.4C1042.8,756.0 1045.5,755.1 1048.1,754.0C1050.1,753.1 1052.1,752.1 1054.1,751.4C1056.1,750.6 1058.1,751.2 1060.1,749.4C1061.5,748.2 1062.8,746.6 1064.1,744.4C1065.5,742.2 1066.8,738.9 1068.1,736.4C1069.5,733.9 1070.8,731.3 1072.1,729.4C1073.5,727.6 1074.8,726.4 1076.2,725.4C1077.8,724.3 1079.5,723.8 1081.2,723.8C1082.8,723.8 1084.5,724.4 1086.2,724.8C1088.2,725.4 1090.2,726.4 1092.2,726.8C1094.8,727.4 1097.5,727.4 1100.2,727.4C1103.5,727.4 1106.8,727.4 1110.2,727.4C1112.8,727.4 1115.5,727.6 1118.2,727.6C1119.5,727.6 1120.8,726.3 1122.2,725.4C1124.2,724.2 1126.2,721.5 1128.2,720.8C1128.8,720.6 1129.4,720.6 1130.0,720.4C1132.0,719.9 1134.0,718.5 1136.0,717.8C1138.7,717.0 1141.3,716.5 1144.0,716.5C1145.7,716.5 1147.3,716.8 1149.0,717.4C1151.3,718.4 1153.7,720.9 1156.0,722.4C1158.7,724.2 1161.4,725.9 1164.0,727.4C1167.4,729.3 1170.7,730.1 1174.0,732.4C1177.4,734.7 1180.7,738.8 1184.0,741.4C1187.4,744.0 1190.7,745.9 1194.0,748.0C1197.4,750.1 1200.7,752.5 1204.0,754.0C1207.4,755.5 1210.7,755.8 1214.1,757.0C1216.7,757.9 1219.4,759.0 1222.1,760.0C1225.4,761.2 1228.7,762.7 1232.1,763.8C1235.4,764.8 1238.7,765.4 1242.1,766.4C1245.4,767.3 1248.7,768.5 1252.1,769.3C1255.4,770.2 1258.7,770.7 1262.1,771.3C1266.1,772.2 1270.1,773.1 1274.1,773.9C1278.8,774.9 1283.4,776.1 1288.1,776.7C1292.8,777.4 1297.4,777.4 1302.1,777.9C1306.8,778.4 1311.5,779.2 1316.1,779.7C1320.8,780.3 1325.5,780.9 1330.1,781.3C1334.8,781.8 1339.5,782.2 1344.1,782.5C1349.5,782.9 1354.8,783.1 1360.1,783.3C1365.5,783.6 1370.8,783.8 1376.2,783.9C1381.5,784.0 1386.8,784.0 1392.2,784.0C1398.2,784.0 1404.2,784.0 1410.2,784.0L1410.2,785.0Z"/>
<path d="M659,575L669,575L669,574L664,574.1Z" fill="#6AC4DC"/>
<rect x="725" y="574" width="10" height="1" fill="#6AC4DC"/>
<rect x="1170" y="573" width="81" height="1" fill="#6AC4DC"/>
<rect x="1251" y="574" width="159" height="1" fill="#6AC4DC"/>
<text class="ax" x="151.00" y="816.0" textLength="52.85" lengthAdjust="spacingAndGlyphs">1880</text>
<text class="ax" x="620.06" y="816.0" textLength="52.46" lengthAdjust="spacingAndGlyphs">1930</text>
<text class="ax" x="1088.46" y="816.0" textLength="52.95" lengthAdjust="spacingAndGlyphs">1980</text>
<circle cx="152" cy="848" r="8" fill="#0A84FF"/><text class="lg" x="169.38" y="856.4" textLength="61.45" lengthAdjust="spacingAndGlyphs">Helen</text>
<circle cx="255" cy="848" r="8" fill="#32D74B"/><text class="lg" x="272.69" y="856.4" textLength="82.52" lengthAdjust="spacingAndGlyphs">Dorothy</text>
<circle cx="381" cy="848" r="8" fill="#FF9F0A"/><text class="lg" x="398.84" y="856.4" textLength="54.55" lengthAdjust="spacingAndGlyphs">Betty</text>
<circle cx="479" cy="848" r="8" fill="#BF5AF2"/><text class="lg" x="497.36" y="856.4" textLength="54.99" lengthAdjust="spacingAndGlyphs">Linda</text>
<circle cx="579" cy="848" r="8" fill="#FF453A"/><text class="lg" x="597.34" y="856.4" textLength="76.41" lengthAdjust="spacingAndGlyphs">Patricia</text>
<circle cx="700" cy="848" r="8" fill="#6AC4DC"/><text class="lg" x="717.86" y="856.4" textLength="89.48" lengthAdjust="spacingAndGlyphs">Deborah</text>
<circle cx="832" cy="848" r="8" fill="#FFD60A"/><text class="lg" x="850.79" y="856.4" textLength="75.38" lengthAdjust="spacingAndGlyphs">Jessica</text>
<circle cx="953" cy="848" r="8" fill="#0A84FF"/><text class="lg" x="972.01" y="856.4" textLength="67.07" lengthAdjust="spacingAndGlyphs">Ashley</text>
<circle cx="1065" cy="848" r="8" fill="#32D74B"/><text class="lg" x="1083.88" y="856.4" textLength="83.15" lengthAdjust="spacingAndGlyphs">Amanda</text>

</svg>
</body></html>
